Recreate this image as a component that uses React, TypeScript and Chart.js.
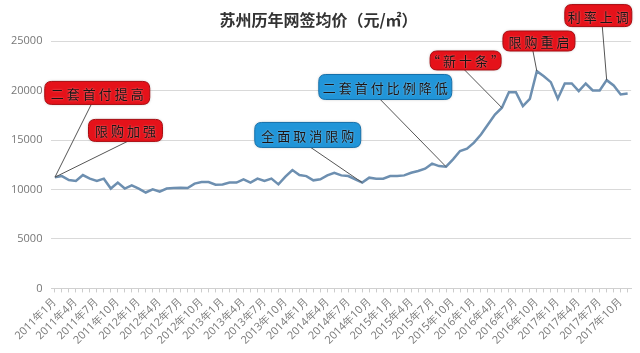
import React, { useEffect, useRef } from "react";
import { Chart, registerables } from "chart.js";

Chart.register(...registerables);

// ---- data ----
const YEARS = ["2011", "2012", "2013", "2014", "2015", "2016", "2017"];
const MONTHS = ["1", "2", "3", "4", "5", "6", "7", "8", "9", "10", "11", "12"];
const LAST_MONTH_COUNT = 83; // Jan 2011 .. Nov 2017

const PRICES = [
  11250, 11360, 10960, 10860, 11460, 11100, 10860, 11100, 10100, 10700,
  10100, 10420, 10100, 9700, 10020, 9790, 10100, 10150, 10190, 10150,
  10600, 10760, 10760, 10490, 10520, 10700, 10700, 11030,
  10700, 11100, 10860, 11100, 10520, 11300, 11970, 11460, 11360, 10930,
  11030, 11430, 11700, 11430, 11360, 11030, 10700, 11200, 11100, 11100,
  11360, 11360, 11430, 11700, 11870, 12110, 12620, 12370,
  12310, 13050, 13890, 14130, 14740, 15570, 16580, 17590, 18270, 19850,
  19850, 18430, 19180, 21970, 21460, 20860, 19180, 20720, 20720, 19950,
  20720, 20020, 20020, 21060, 20520, 19610, 19710,
];

const Y_TICKS = [0, 5000, 10000, 15000, 20000, 25000];

const TITLE = "苏州历年网签均价（元/㎡）";

const NOTE_TEXTS = ["二套首付提高", "限购加强", "全面取消限购", "二套首付比例降低", "“新十条”", "限购重启", "利率上调"];
const NOTE_TARGETS = [0, 0, 44, 56, 64, 69, 79];
const NOTE_KINDS = ["red", "red", "blue", "blue", "red", "red", "red"];

// ---- layout of the callout boxes (in index / value space) ----
const NOTE_BOX = [
  { ix: 6.06, v: 19770, w: 105, h: 23, dx: -6 },
  { ix: 10.1, v: 15980, w: 74, h: 22, dx: 2 },
  { ix: 36.2, v: 15520, w: 106, h: 25, dx: 3 },
  { ix: 47.3, v: 20370, w: 133, h: 25, dx: -5 },
  { ix: 58.8, v: 23050, w: 71, h: 19, dx: -1 },
  { ix: 69.3, v: 25020, w: 72, h: 20, dx: -6 },
  { ix: 77.8, v: 27590, w: 67, h: 22, dx: 4 },
];

const LABELS: string[] = [];
YEARS.forEach((y) => MONTHS.forEach((m) => LABELS.push(`${y}年${m}月`)));
const CATEGORIES = LABELS.slice(0, LAST_MONTH_COUNT);

const STYLE = {
  red: { fill: "#e5121a", stroke: "#a80b10" },
  blue: { fill: "#2195d8", stroke: "#1670aa" },
};

function roundRect(ctx: CanvasRenderingContext2D, x: number, y: number, w: number, h: number, r: number) {
  ctx.beginPath();
  ctx.moveTo(x + r, y);
  ctx.lineTo(x + w - r, y);
  ctx.quadraticCurveTo(x + w, y, x + w, y + r);
  ctx.lineTo(x + w, y + h - r);
  ctx.quadraticCurveTo(x + w, y + h, x + w - r, y + h);
  ctx.lineTo(x + r, y + h);
  ctx.quadraticCurveTo(x, y + h, x, y + h - r);
  ctx.lineTo(x, y + r);
  ctx.quadraticCurveTo(x, y, x + r, y);
  ctx.closePath();
}

const calloutPlugin = {
  id: "callouts",
  afterDatasetsDraw(chart: any) {
    const ctx: CanvasRenderingContext2D = chart.ctx;
    const xs = chart.scales.x;
    const ys = chart.scales.y;
    const pts = chart.getDatasetMeta(0).data;
    NOTE_TEXTS.forEach((text, i) => {
      const b = NOTE_BOX[i];
      const cx = xs.getPixelForValue(b.ix);
      const cy = ys.getPixelForValue(b.v);
      const left = cx - b.w / 2;
      const top = cy - b.h / 2;
      const p = pts[NOTE_TARGETS[i]];
      ctx.save();
      // leader line
      ctx.strokeStyle = "#555555";
      ctx.lineWidth = 1;
      ctx.beginPath();
      ctx.moveTo(cx + b.dx, top + b.h);
      ctx.lineTo(p.x, p.y);
      ctx.stroke();
      // box
      const st = (STYLE as any)[NOTE_KINDS[i]];
      ctx.shadowColor = "rgba(0,0,0,0.25)";
      ctx.shadowBlur = 3;
      roundRect(ctx, left, top, b.w, b.h, 7);
      ctx.fillStyle = st.fill;
      ctx.fill();
      ctx.shadowBlur = 0;
      ctx.shadowColor = "transparent";
      ctx.lineWidth = 1;
      ctx.strokeStyle = st.stroke;
      ctx.stroke();
      // text
      ctx.font = "13px 'Noto Sans CJK SC'";
      (ctx as any).letterSpacing = "3px";
      ctx.textAlign = "center";
      ctx.textBaseline = "middle";
      ctx.shadowColor = "rgba(255,255,255,0.5)";
      ctx.shadowBlur = 2;
      ctx.fillStyle = "#1c1414";
      ctx.fillText(text, cx + 1.5, cy + 1);
      ctx.restore();
    });
  },
};

export default function App() {
  const ref = useRef<HTMLCanvasElement | null>(null);
  useEffect(() => {
    if (!ref.current) return;
    const chart = new Chart(ref.current, {
      type: "line",
      data: {
        labels: CATEGORIES,
        datasets: [
          {
            data: PRICES,
            borderColor: "#6d8fb0",
            borderWidth: 2.5,
            pointRadius: 0,
            tension: 0,
            fill: false,
          },
        ],
      },
      options: {
        animation: false,
        responsive: true,
        maintainAspectRatio: false,
        layout: { padding: { left: 2, right: 5, top: 0, bottom: 3 } },
        plugins: {
          legend: { display: false },
          tooltip: { enabled: false },
          title: {
            display: true,
            text: TITLE,
            color: "#333333",
            font: { family: "'Noto Sans CJK SC'", size: 16, weight: "bold" },
            padding: { top: 10, bottom: 12 },
          },
        },
        scales: {
          x: {
            offset: true,
            grid: { display: true, drawOnChartArea: false, drawTicks: true, tickLength: 4, color: "#cccccc", offset: false },
            border: { display: true, color: "#d0d0d0" },
            ticks: {
              autoSkip: false,
              maxRotation: 45,
              minRotation: 45,
              padding: 3,
              color: "#777777",
              font: { family: "'Open Sans'", size: 11 },
              callback: (_v: any, i: number) => (i % 3 === 0 ? CATEGORIES[i] : ""),
            },
          },
          y: {
            min: Y_TICKS[0],
            max: Y_TICKS[Y_TICKS.length - 1],
            afterBuildTicks: (axis: any) => {
              axis.ticks = Y_TICKS.map((v) => ({ value: v }));
            },
            grid: { color: "#d9d9d9", drawTicks: false },
            border: { display: false },
            ticks: {
              padding: 9,
              color: "#777777",
              font: { family: "'Open Sans'", size: 11 },
              callback: (v: any) => String(v),
            },
          },
        },
      },
      plugins: [calloutPlugin],
    } as any);
    return () => chart.destroy();
  }, []);
  return (
    <div style={{ position: "fixed", left: 0, top: 0, width: 640, height: 353, background: "#ffffff" }}>
      <canvas ref={ref} />
    </div>
  );
}
